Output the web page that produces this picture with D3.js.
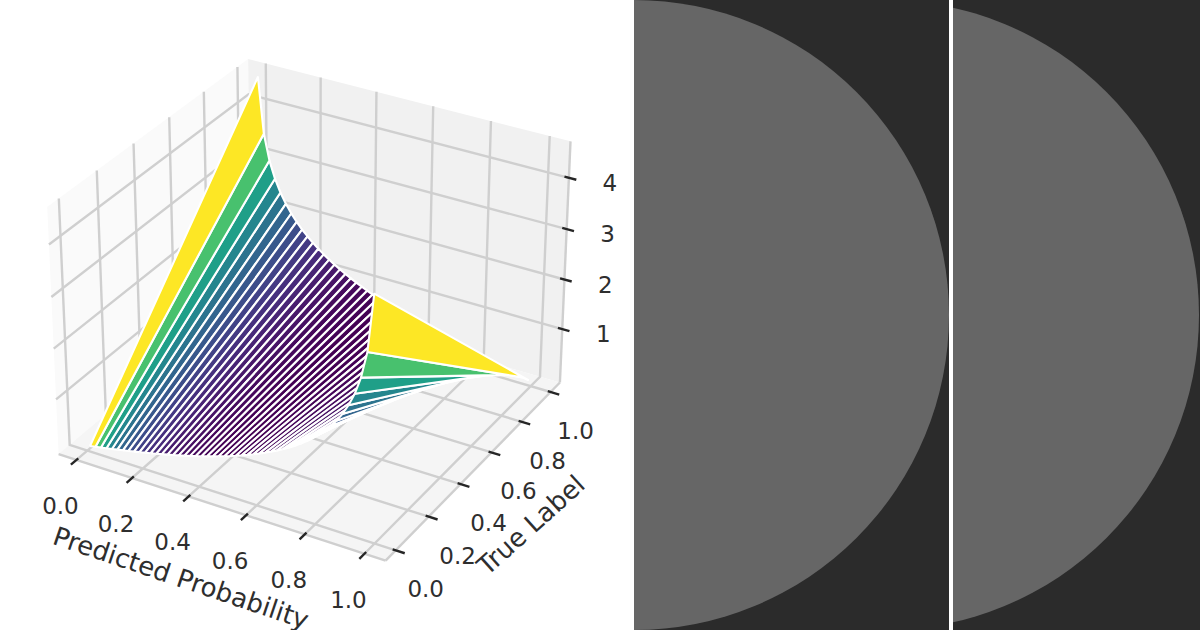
<!DOCTYPE html>
<html><head><meta charset="utf-8">
<script src="https://cdnjs.cloudflare.com/ajax/libs/d3/7.8.5/d3.min.js"></script>
<style>html,body{margin:0;padding:0;background:#fff;overflow:hidden}svg{display:block}text{font-family:"DejaVu Sans";fill:#2e2e2e}</style>
</head><body><svg id="c" width="1200" height="630"></svg>
<script>
const predictedProbability=[0.01,0.03,0.05,0.07,0.09,0.11,0.13,0.15,0.17,0.19,0.21,0.23,0.25,0.27,0.29,0.31,0.33,0.35,0.37,0.39,0.41,0.43,0.45,0.47,0.49,0.51,0.53,0.55,0.57,0.59,0.61,0.63,0.65,0.67,0.69,0.71,0.73,0.75,0.77,0.79,0.81,0.83,0.85,0.87,0.89,0.91,0.93,0.95,0.97,0.99];
const trueLabel=[0,1];
const lossTrue1=[4.605,3.507,2.996,2.659,2.408,2.207,2.040,1.897,1.772,1.661,1.561,1.470,1.386,1.309,1.238,1.171,1.109,1.050,0.994,0.942,0.892,0.844,0.799,0.755,0.713,0.673,0.635,0.598,0.562,0.528,0.494,0.462,0.431,0.400,0.371,0.342,0.315,0.288,0.261,0.236,0.211,0.186,0.163,0.139,0.117,0.094,0.073,0.051,0.030,0.010];
const lossTrue0=[0.010,0.030,0.051,0.073,0.094,0.117,0.139,0.163,0.186,0.211,0.236,0.261,0.288,0.315,0.342,0.371,0.400,0.431,0.462,0.494,0.528,0.562,0.598,0.635,0.673,0.713,0.755,0.798,0.844,0.892,0.942,0.994,1.050,1.109,1.171,1.238,1.309,1.386,1.470,1.561,1.661,1.772,1.897,2.040,2.207,2.408,2.659,2.996,3.507,4.605];
const xTicks=[0,0.2,0.4,0.6,0.8,1.0], yTicks=[0,0.2,0.4,0.6,0.8,1.0], zTicks=[1,2,3,4];
const xTitle="Predicted Probability", yTitle="True Label";

// limits of the axes box
const xLim=[-0.065,1.07], yLim=[-0.06,1.065], zLim=[-0.1,4.7];
const dist=10, elev=30*Math.PI/180, azim=-60*Math.PI/180;
const box=[1.1428,1.1428,0.8571];
const bx=d3.scaleLinear().domain(xLim).range([0,box[0]]),
      by=d3.scaleLinear().domain(yLim).range([0,box[1]]),
      bz=d3.scaleLinear().domain(zLim).range([0,box[2]]);
const cross=(a,b)=>[a[1]*b[2]-a[2]*b[1],a[2]*b[0]-a[0]*b[2],a[0]*b[1]-a[1]*b[0]];
const dot=(a,b)=>a[0]*b[0]+a[1]*b[1]+a[2]*b[2];
const unit=a=>{const n=Math.hypot(...a);return a.map(v=>v/n)};
const R=box.map(v=>v/2);
const ps=[Math.cos(elev)*Math.cos(azim),Math.cos(elev)*Math.sin(azim),Math.sin(elev)];
const eye=R.map((v,i)=>v+dist*ps[i]);
const w=unit(ps),u=unit(cross([0,0,1],w)),v_=cross(w,u);
function view(p){const q=[bx(p[0])-eye[0],by(p[1])-eye[1],bz(p[2])-eye[2]];
  const d=-dot(w,q);return {x:dot(u,q)/d,y:dot(v_,q)/d,d:d};}
// screen scales, calibrated on surface corners
const A=view([0.01,0,0.01]),B=view([0.99,1,0.01]),C=view([0.01,1,4.605]);
const sx=d3.scaleLinear().domain([A.x,B.x]).range([90,528]);
const sy=d3.scaleLinear().domain([A.y,C.y]).range([446,77]);
const P=p=>{const v=view(p);return [sx(v.x),sy(v.y)]};
const line=d3.line();
const svg=d3.select("#c");
const g=svg.append("g");
const path=(pts,attrs)=>{const e=g.append("path").attr("d",line(pts.map(P)));for(const k in attrs)e.attr(k,attrs[k]);return e};

const [x0,x1]=xLim,[y0,y1]=yLim,[z0,z1]=zLim;
// panes
path([[x0,y0,z0],[x0,y1,z0],[x0,y1,z1],[x0,y0,z1]],{fill:"#fafafa"});
path([[x0,y1,z0],[x1,y1,z0],[x1,y1,z1],[x0,y1,z1]],{fill:"#f1f1f1"});
path([[x0,y0,z0],[x1,y0,z0],[x1,y1,z0],[x0,y1,z0]],{fill:"#f5f5f5"});
const gridStyle={fill:"none",stroke:"#cfcfcf","stroke-width":2.4};
xTicks.forEach(t=>path([[t,y0,z0],[t,y1,z0],[t,y1,z1]],gridStyle));
yTicks.forEach(t=>path([[x1,t,z0],[x0,t,z0],[x0,t,z1]],gridStyle));
zTicks.forEach(t=>path([[x0,y0,t],[x0,y1,t],[x1,y1,t]],gridStyle));
// axis lines
path([[x0,y0,z0],[x1,y0,z0]],gridStyle);
path([[x1,y0,z0],[x1,y1,z0]],gridStyle);
path([[x1,y1,z0],[x1,y1,z1]],gridStyle);
// ticks and labels
const tickStyle={stroke:"#262626","stroke-width":2.4,fill:"none"};
const tickText=(pos,s,dx,dy)=>g.append("text").attr("x",pos[0]+dx).attr("y",pos[1]+dy).attr("text-anchor","middle").attr("dominant-baseline","central").attr("font-size",23).text(s);
const yLabelDx=d3.scaleLinear().domain([0,1]).range([30,25]);
xTicks.forEach(t=>{path([[t,y0-0.03,z0],[t,y0+0.01,z0]],tickStyle);tickText(P([t,y0,z0]),t.toFixed(1),-16,46);});
yTicks.forEach(t=>{path([[x1+0.03,t,z0],[x1-0.01,t,z0]],tickStyle);tickText(P([x1,t,z0]),t.toFixed(1),yLabelDx(t),39);});
zTicks.forEach(t=>{path([[x1+0.025,y1,t],[x1-0.015,y1,t]],tickStyle);tickText(P([x1,y1,t]),String(t),41,5);});
g.append("text").attr("transform","translate(181,578) rotate(18.7)").attr("text-anchor","middle").attr("dominant-baseline","central").attr("font-size",26).text(xTitle);
g.append("text").attr("transform","translate(531,525) rotate(-42)").attr("text-anchor","middle").attr("dominant-baseline","central").attr("font-size",26).text(yTitle);

// surface strips
const strips=d3.range(predictedProbability.length-1).map(i=>{
  const a=predictedProbability[i],b=predictedProbability[i+1];
  const corners=[[a,trueLabel[0],lossTrue0[i]],[b,trueLabel[0],lossTrue0[i+1]],[b,trueLabel[1],lossTrue1[i+1]],[a,trueLabel[1],lossTrue1[i]]];
  return {corners,mean:d3.mean(corners,c=>c[2]),depth:d3.mean(corners,c=>view(c).d)};
});
const color=d3.scaleSequential(d3.interpolateViridis).domain(d3.extent(strips,s=>s.mean));
strips.sort((a,b)=>d3.descending(a.depth,b.depth)).forEach(s=>{
  path([...s.corners,s.corners[0]],{fill:color(s.mean),stroke:"#fff","stroke-width":2.1,"stroke-linejoin":"round"});
});

// right-hand panels
const defs=svg.append("defs");
const panels=[{x:634,w:315,cx:634,r:315},{x:953,w:247,cx:884,r:315}];
panels.forEach((p,i)=>{
  defs.append("clipPath").attr("id","clip"+i).append("rect").attr("x",p.x).attr("y",0).attr("width",p.w).attr("height",630);
  svg.append("rect").attr("x",p.x).attr("y",0).attr("width",p.w).attr("height",630).attr("fill","#2b2b2b");
  svg.append("circle").attr("cx",p.cx).attr("cy",315).attr("r",p.r).attr("fill","#666666").attr("clip-path",`url(#clip${i})`);
});
</script></body></html>
